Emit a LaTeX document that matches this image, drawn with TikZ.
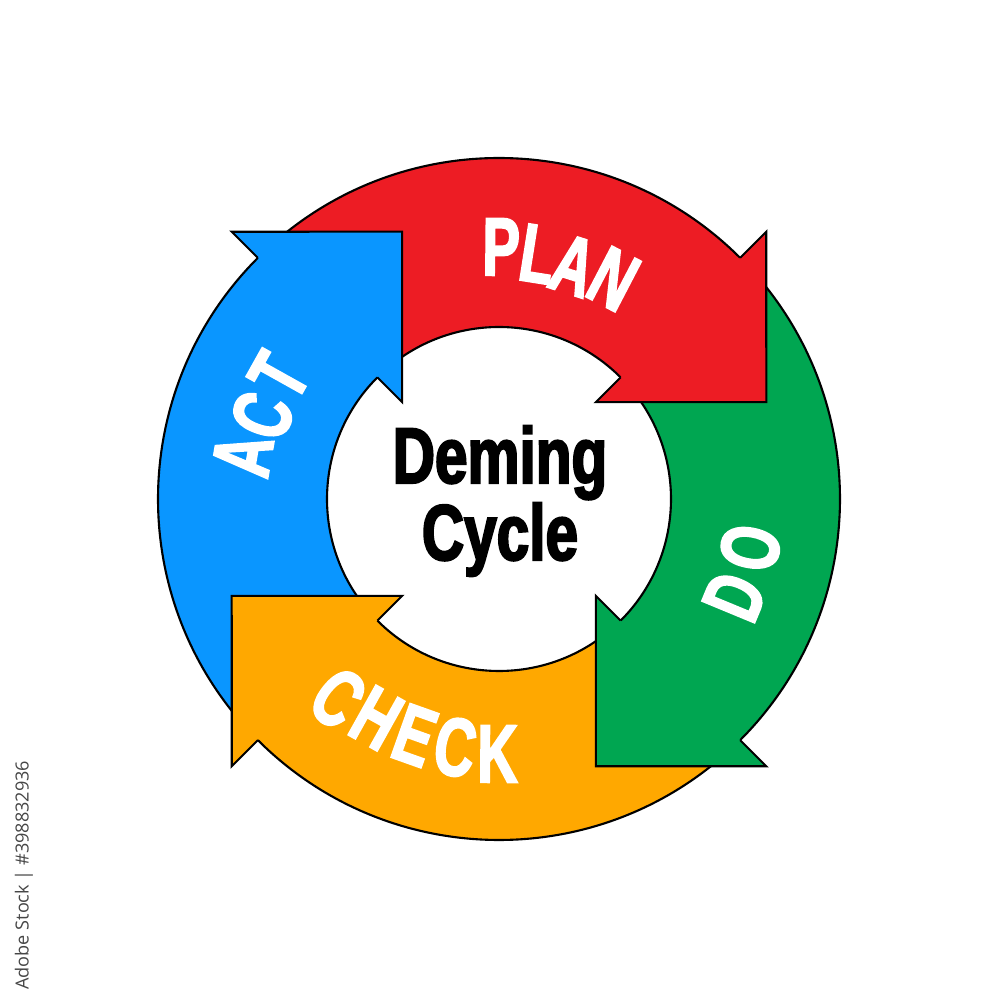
\documentclass[tikz,border=0pt]{standalone}
\usepackage{fontspec}
\setmainfont{Liberation Sans}
\newfontfamily\labelfont{Liberation Sans}[FakeStretch=0.68,FakeBold=2.2]
\newfontfamily\centerfont{Liberation Sans}[FakeStretch=0.74,FakeBold=2.6]
\newfontfamily\stockfont{Open Sans}
\usetikzlibrary{calc}
\definecolor{planred}{RGB}{237,28,36}
\definecolor{dogreen}{RGB}{0,166,81}
\definecolor{checkorange}{RGB}{255,168,0}
\definecolor{actblue}{RGB}{10,150,255}
\definecolor{stockgray}{RGB}{70,70,70}
\begin{document}
\begin{tikzpicture}[scale=0.1,
  outline/.style={draw=black, line width=0.6pt},
  lbl/.style={text=white, inner sep=0pt, font=\labelfont\bfseries\fontsize{23.5}{25}\selectfont},
  ctr/.style={text=black, inner sep=0pt, anchor=base, font=\centerfont\bfseries\fontsize{22.5}{24}\selectfont},
]
\fill[white] (-49.9,-50.1) rectangle (50.1,49.9);
\useasboundingbox (-49.9,-50.1) rectangle (50.1,49.9);

% bands
\foreach \s/\e/\c in {133/44/planred, 43/-46/dogreen, -47/-136/checkorange, 223/134/actblue} {
  \fill[\c] (\s:34.1) arc[start angle=\s, end angle=\e, radius=34.1]
     -- (\e:17.2) arc[start angle=\e, end angle=\s, radius=17.2] -- cycle;
  \draw[outline] (\s:34.1) arc[start angle=\s, end angle=\e, radius=34.1];
  \draw[outline] (\e:17.2) arc[start angle=\e, end angle=\s, radius=17.2];
}

% heads
\foreach \p/\c [evaluate=\p as \q using \p-90] in {45/planred, -45/dogreen, -135/checkorange, 135/actblue} {
  \coordinate (tip\c) at ($(\p:25.75)+(\q:12.05)$);
  \fill[\c] (\p:13.7) -- (tip\c) -- (\p:37.8) -- cycle;
  \draw[outline, line join=miter] (\p:34.1) -- (\p:37.8) -- (tip\c) -- (\p:13.7) -- (\p:17.2);
}

% labels
\foreach \ch/\a/\r [count=\i] in {P/89.5/25.2, L/81/24.8, A/72.3/24.5, N/62.5/24.8} {
  \node[lbl, rotate=\a-90] (plan\i) at (\a:\r) {\ch};
}
\foreach \ch/\a/\r [count=\i] in {D/-22.5/25.5, O/-11/25.6} {
  \node[lbl, rotate=\a+90] (do\i) at (\a:\r) {\ch};
}
\foreach \ch/\a/\r [count=\i] in {C/-129/25.6, H/-119.2/25.1, E/-109.6/25.1, C/-100/25.2, K/-90.3/25.5} {
  \node[lbl, rotate=\a+90] (check\i) at (\a:\r) {\ch};
}
\foreach \ch/\a/\r [count=\i] in {A/170.3/26.0, C/160.6/25.1, T/150.8/25.2} {
  \node[lbl, rotate=\a-90] (act\i) at (\a:\r) {\ch};
}

\node[ctr] (deming) at (0.1,1.6) {Deming};
\node[ctr] (cycle) at (0.1,-6.1) {Cycle};

\node[rotate=90, anchor=east, inner sep=0pt, text=stockgray,
      font=\stockfont\fontsize{5.15}{6}\selectfont] (stockid) at (-47.5,-26.1) {Adobe Stock | \#398832936};
\end{tikzpicture}
\end{document}
